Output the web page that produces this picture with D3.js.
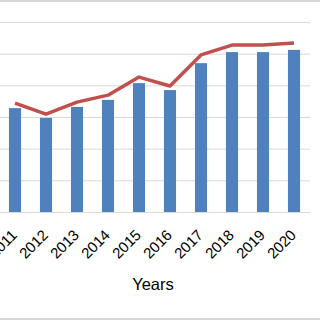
<!DOCTYPE html>
<html>
<head>
<meta charset="utf-8">
<script src="https://cdn.jsdelivr.net/npm/d3@7"></script>
<style>
  html, body { margin: 0; padding: 0; background: #fff; }
  svg { display: block; }
</style>
</head>
<body>
<div id="chart"></div>
<script>
var years = ["2011", "2012", "2013", "2014", "2015", "2016", "2017", "2018", "2019", "2020"];
var barValues = [32.8, 29.7, 33.2, 35.4, 40.7, 38.5, 47.0, 50.5, 50.5, 51.2];
var lineValues = [34.4, 30.9, 34.7, 36.9, 42.6, 39.8, 49.6, 52.7, 52.7, 53.4];
var yTicks = [0, 10, 20, 30, 40, 50, 60];

var W = 320, H = 320;

var svg = d3.select("#chart")
    .append("svg")
    .attr("width", W)
    .attr("height", H);

// frame strips of the cropped figure
svg.append("rect").attr("x", 0).attr("y", 0).attr("width", W).attr("height", 2).attr("fill", "#d6d6d6");
svg.append("rect").attr("x", 0).attr("y", 318).attr("width", W).attr("height", 2).attr("fill", "#d6d6d6");

var x = d3.scaleBand()
    .domain(years)
    .range([-0.5, 309.5])
    .paddingInner(0.61)
    .paddingOuter(0.305);

var y = d3.scaleLinear()
    .domain([0, 60])
    .range([212, 22]);

// gridlines
var grid = svg.append("g")
    .call(d3.axisRight(y).tickValues(yTicks).tickSize(310).tickFormat(""));
grid.select(".domain").remove();
grid.selectAll(".tick line").attr("stroke", "#d9d9d9").attr("stroke-width", 1);

// bars
svg.selectAll(".bar")
    .data(years)
    .enter().append("rect")
    .attr("class", "bar")
    .attr("x", function(d) { return x(d); })
    .attr("width", x.bandwidth())
    .attr("y", function(d, i) { return y(barValues[i]); })
    .attr("height", function(d, i) { return y(0) - y(barValues[i]); })
    .attr("fill", "#4f81bd");

// line
svg.append("path")
    .datum(years)
    .attr("fill", "none")
    .attr("stroke", "#c0504d")
    .attr("stroke-width", 3.5)
    .attr("stroke-linejoin", "round")
    .attr("d", d3.line()
        .x(function(d) { return x(d) + x.bandwidth() / 2; })
        .y(function(d, i) { return y(lineValues[i]); })
    );

// x tick labels, rotated
var xAxis = svg.append("g")
    .attr("transform", "translate(0,212)")
    .call(d3.axisBottom(x).tickSize(0).tickPadding(0));
xAxis.select(".domain").remove();
xAxis.selectAll("text")
    .attr("font-family", "'Liberation Sans', Arial, sans-serif")
    .attr("font-size", 15)
    .attr("fill", "#000")
    .attr("text-anchor", "end")
    .attr("dy", null)
    .attr("y", 0)
    .attr("transform", "translate(3,24) rotate(-45)");

// axis title
svg.append("text")
    .attr("x", 153)
    .attr("y", 290)
    .attr("text-anchor", "middle")
    .attr("font-family", "'Liberation Sans', Arial, sans-serif")
    .attr("font-size", 16.5)
    .attr("fill", "#000")
    .text("Years");
</script>
</body>
</html>
